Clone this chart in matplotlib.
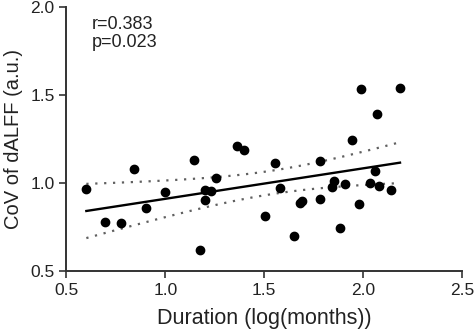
import numpy as np
import matplotlib.pyplot as plt

plt.rcParams['font.family'] = ['Liberation Sans', 'DejaVu Sans']

# duration (log months) vs CoV of dALFF
duration = [0.601, 0.697, 0.778, 0.844, 0.901, 0.997, 1.144, 1.176, 1.203, 1.203,
            1.230, 1.254, 1.362, 1.399, 1.505, 1.556, 1.579, 1.652, 1.679, 1.691,
            1.780, 1.780, 1.844, 1.851, 1.881, 1.908, 1.944, 1.977, 1.991, 2.033,
            2.058, 2.070, 2.080, 2.139, 2.186]
cov = [0.968, 0.776, 0.773, 1.080, 0.856, 0.949, 1.133, 0.617, 0.960, 0.903,
       0.953, 1.027, 1.212, 1.189, 0.811, 1.116, 0.973, 0.701, 0.884, 0.900,
       1.127, 0.909, 0.979, 1.013, 0.746, 0.996, 1.242, 0.879, 1.536, 1.000,
       1.070, 1.390, 0.983, 0.960, 1.538]
stats_text = "r=0.383\np=0.023"
xticks = [0.5, 1.0, 1.5, 2.0, 2.5]
yticks = [0.5, 1.0, 1.5, 2.0]

x = np.array(duration)
y = np.array(cov)
n = len(x)

# linear fit + 95% confidence band
slope, intercept = np.polyfit(x, y, 1)
xs = np.linspace(x.min(), x.max(), 100)
ys = intercept + slope * xs
resid = y - (intercept + slope * x)
s = np.sqrt(np.sum(resid ** 2) / (n - 2))
sxx = np.sum((x - x.mean()) ** 2)
t = 2.035  # t(0.975, 33)
band = t * s * np.sqrt(1.0 / n + (xs - x.mean()) ** 2 / sxx)

fig = plt.figure(figsize=(4.74, 3.33), dpi=100)
ax = fig.add_axes([0.140, 0.186, 0.835, 0.793])

ax.plot(xs, ys + band, color='#606060', lw=1.6, linestyle=(0, (1, 3)))
ax.plot(xs, ys - band, color='#606060', lw=1.6, linestyle=(0, (1, 3)))
ax.plot(xs, ys, color='black', lw=1.7)
ax.scatter(x, y, s=36, color='black', zorder=3)

ax.set_xlim(0.5, 2.5)
ax.set_ylim(0.5, 2.0)
ax.set_xticks(xticks)
ax.set_yticks(yticks)
ax.set_xticklabels([f"{v:.1f}" for v in xticks])
ax.set_yticklabels([f"{v:.1f}" for v in yticks])
ax.tick_params(direction='out', length=5, width=1.2, color='#333333',
               labelsize=12.5, labelcolor='#222222')

for side in ['top', 'right']:
    ax.spines[side].set_visible(False)
for side in ['left', 'bottom']:
    ax.spines[side].set_linewidth(1.4)
    ax.spines[side].set_color('#333333')

ax.set_xlabel('Duration (log(months))', fontsize=15.5, color='#222222', labelpad=7)
ax.set_ylabel('CoV of dALFF (a.u.)', fontsize=14.5, color='#222222', labelpad=5)
ax.text(0.064, 0.965, stats_text, transform=ax.transAxes, fontsize=13,
        va='top', ha='left', color='#222222', linespacing=1.05)

fig.savefig('out.png', dpi=100)
